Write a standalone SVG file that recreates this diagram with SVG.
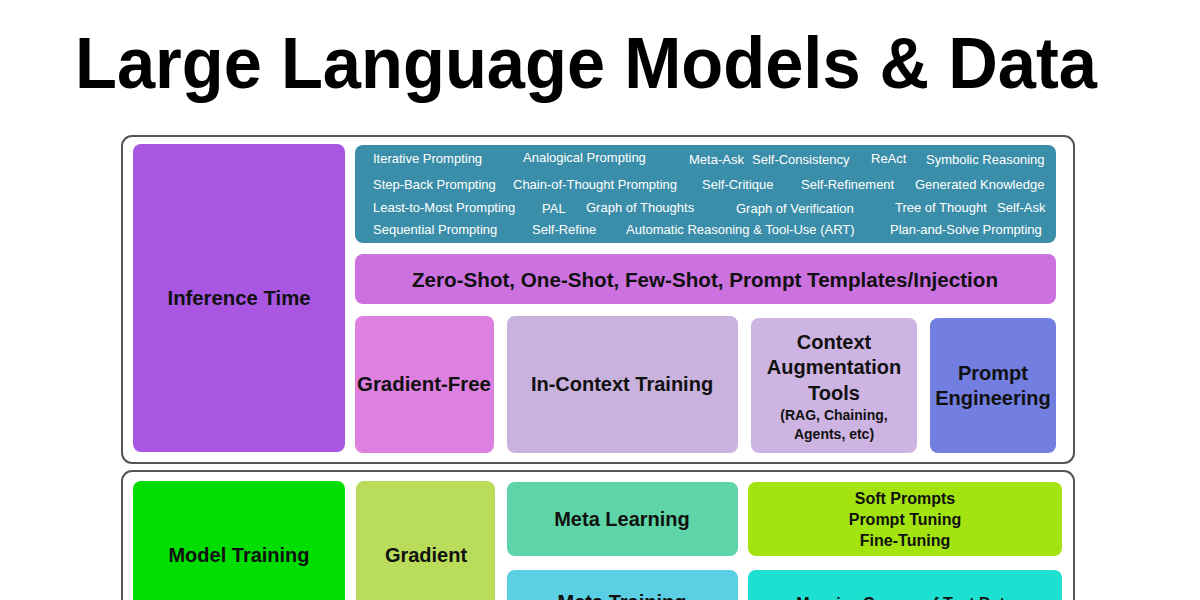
<svg xmlns="http://www.w3.org/2000/svg" width="1200" height="600" viewBox="0 0 1200 600">
<style>
text{font-family:"Liberation Sans",Arial,sans-serif;}
.t{font-size:20px;text-anchor:middle;fill:#111;font-weight:bold;}
.m{font-size:16px;text-anchor:middle;fill:#111;font-weight:bold;}
.s{font-size:13px;fill:#fff;}
.outer{fill:#fff;stroke:#555;stroke-width:2;}
</style>
<rect width="1200" height="600" fill="#fff"/>
<text x="586" y="88" font-size="72" font-weight="bold" text-anchor="middle" fill="#000" textLength="1022" lengthAdjust="spacingAndGlyphs">Large Language Models &amp; Data</text>
<rect class="outer" x="122" y="136" width="952" height="327" rx="10"/>
<rect class="outer" x="122" y="471" width="952" height="160" rx="10"/>
<g id="inference"><rect x="133" y="144" width="212" height="308" rx="8" fill="#a956e2"/><text class="t" x="239" y="305" textLength="143" lengthAdjust="spacingAndGlyphs">Inference Time</text></g>
<g id="techniques"><rect x="355" y="145" width="701" height="98" rx="8" fill="#3b8ea9"/>
<text class="s" x="373" y="163">Iterative Prompting</text><text class="s" x="523" y="162">Analogical Prompting</text><text class="s" x="689" y="164">Meta-Ask</text><text class="s" x="752" y="164">Self-Consistency</text><text class="s" x="871" y="163">ReAct</text><text class="s" x="926" y="164">Symbolic Reasoning</text>
<text class="s" x="373" y="189">Step-Back Prompting</text><text class="s" x="513" y="189">Chain-of-Thought Prompting</text><text class="s" x="702" y="189">Self-Critique</text><text class="s" x="801" y="189">Self-Refinement</text><text class="s" x="915" y="189">Generated Knowledge</text>
<text class="s" x="373" y="212">Least-to-Most Prompting</text><text class="s" x="542" y="213">PAL</text><text class="s" x="586" y="212">Graph of Thoughts</text><text class="s" x="736" y="213">Graph of Verification</text><text class="s" x="895" y="212">Tree of Thought</text><text class="s" x="997" y="212">Self-Ask</text>
<text class="s" x="373" y="234">Sequential Prompting</text><text class="s" x="532" y="234">Self-Refine</text><text class="s" x="626" y="234">Automatic Reasoning &amp; Tool-Use (ART)</text><text class="s" x="890" y="234">Plan-and-Solve Prompting</text></g>
<g id="zeroshot"><rect x="355" y="254" width="701" height="50" rx="8" fill="#cc72e0"/><text class="t" x="705" y="287" textLength="586" lengthAdjust="spacingAndGlyphs">Zero-Shot, One-Shot, Few-Shot, Prompt Templates/Injection</text></g>
<g id="gradfree"><rect x="355" y="316" width="139" height="137" rx="8" fill="#dd80e0"/><text class="t" x="424" y="391" textLength="134" lengthAdjust="spacingAndGlyphs">Gradient-Free</text></g>
<g id="incontext"><rect x="507" y="316" width="231" height="137" rx="8" fill="#c9b2de"/><text class="t" x="622" y="391">In-Context Training</text></g>
<g id="context"><rect x="751" y="318" width="166" height="135" rx="8" fill="#cdb4e2"/><text class="t" x="834" y="349">Context</text><text class="t" x="834" y="374">Augmentation</text><text class="t" x="834" y="400">Tools</text><text x="834" y="420" font-size="14" font-weight="bold" text-anchor="middle" fill="#111">(RAG, Chaining,</text><text x="834" y="439" font-size="14" font-weight="bold" text-anchor="middle" fill="#111">Agents, etc)</text></g>
<g id="prompteng"><rect x="930" y="318" width="126" height="135" rx="8" fill="#737fe0"/><text class="t" x="993" y="380">Prompt</text><text class="t" x="993" y="405">Engineering</text></g>
<g id="modeltraining"><rect x="133" y="481" width="212" height="140" rx="8" fill="#00dd00"/><text class="t" x="239" y="562">Model Training</text></g>
<g id="gradient"><rect x="356" y="481" width="139" height="140" rx="8" fill="#b9dd5a"/><text class="t" x="426" y="562">Gradient</text></g>
<g id="metalearning"><rect x="507" y="482" width="231" height="74" rx="8" fill="#5ed5a8"/><text class="t" x="622" y="526">Meta Learning</text></g>
<g id="soft"><rect x="748" y="482" width="314" height="74" rx="8" fill="#a3e310"/><text class="m" x="905" y="504">Soft Prompts</text><text class="m" x="905" y="525">Prompt Tuning</text><text class="m" x="905" y="546">Fine-Tuning</text></g>
<g id="metatraining"><rect x="507" y="570" width="231" height="60" rx="8" fill="#5bd0e4"/><text class="t" x="622" y="609">Meta Training</text></g>
<g id="corpus"><rect x="748" y="570" width="314" height="60" rx="8" fill="#1de0d0"/><text class="m" x="905" y="609">Massive Corpus of Text Data</text></g>
<g id="connectors"></g>
</svg>
